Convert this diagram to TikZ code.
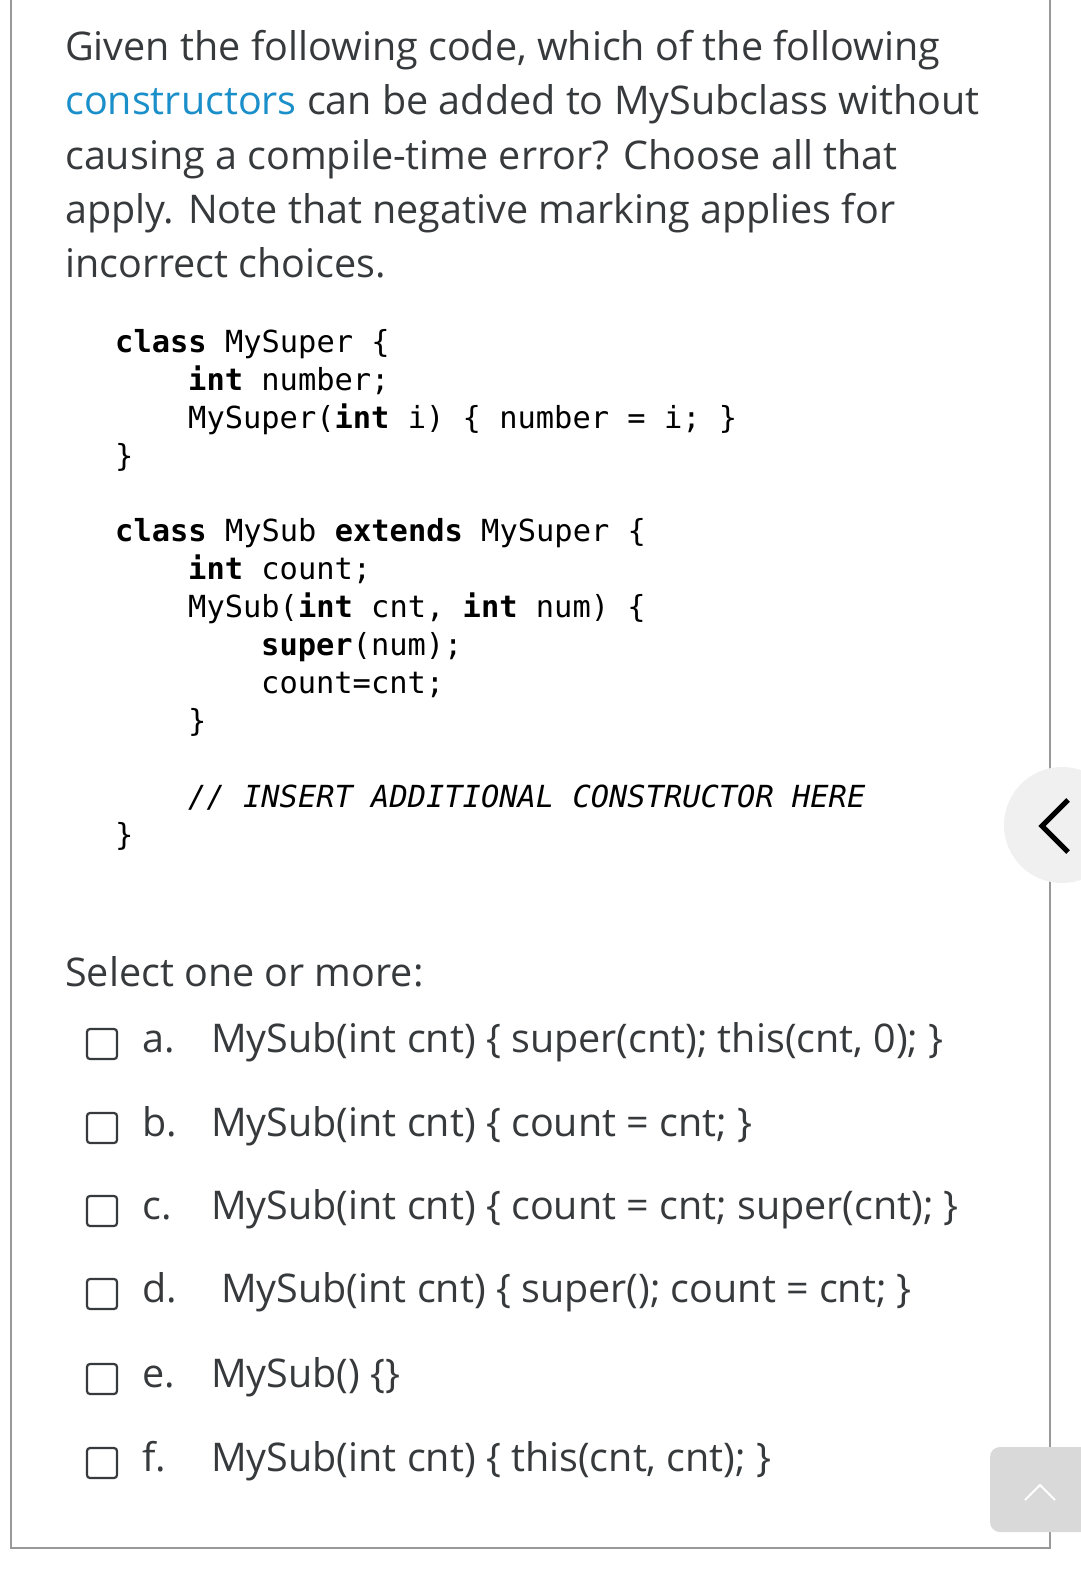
\documentclass[tikz,border=0pt]{standalone}
\usepackage{fontspec}
\setmainfont{Open Sans}
\setmonofont{DejaVu Sans Mono}
\definecolor{txt}{HTML}{373A3C}
\definecolor{lnk}{HTML}{1A8FC9}
\begin{document}
\begin{tikzpicture}[x=1pt,y=-1pt,
 t/.style={anchor=base west,inner sep=0,text=txt,font=\fontsize{39.5}{44}\selectfont},
 c/.style={anchor=base west,inner sep=0,text=black,font=\ttfamily\fontsize{30.4}{36}\selectfont},
 cb/.style={draw=txt,line width=2.2pt,rounded corners=3pt,minimum size=30pt,inner sep=0}]
\useasboundingbox (0,0) rectangle (1080,1592);
\fill[white] (0,0) rectangle (1080,1592);
\draw[line width=1.5pt,color=gray!80] (11,0) -- (11,1548) -- (1050,1548) -- (1050,0);
\fill[gray!12] (1062,825) circle (58);
\draw[line width=5pt,black] (1068,800) -- (1042,826) -- (1068,852);
\fill[gray!30,rounded corners=10pt] (990,1447) rectangle (1100,1532);
\draw[white,line width=2pt] (1025,1500) -- (1040,1485) -- (1055,1500);
\node[t] (l1) at (65,61) {Given the following code, which of the following};
\node[t] (l2) at (65,115) {\textcolor{lnk}{constructors} can be added to MySubclass without};
\node[t] (l3) at (65,169) {causing a compile-time error? Choose all that};
\node[t] (l4) at (65,223) {apply. Note that negative marking applies for};
\node[t] (l5) at (65,277) {incorrect choices.};
\node[c] (c1) at (115,352) {\textbf{class} MySuper \{};
\node[c] (c2) at (188,390) {\textbf{int} number;};
\node[c] (c3) at (188,428) {MySuper(\textbf{int} i) \{ number = i; \}};
\node[c] (c4) at (115,466) {\}};
\node[c] (c5) at (115,541) {\textbf{class} MySub \textbf{extends} MySuper \{};
\node[c] (c6) at (188,579) {\textbf{int} count;};
\node[c] (c7) at (188,617) {MySub(\textbf{int} cnt, \textbf{int} num) \{};
\node[c] (c8) at (261,655) {\textbf{super}(num);};
\node[c] (c9) at (261,693) {count=cnt;};
\node[c] (c10) at (188,731) {\}};
\node[c] (c11) at (188,807) {\textit{// INSERT ADDITIONAL CONSTRUCTOR HERE}};
\node[c] (c12) at (115,845) {\}};
\node[t] (sel) at (65,986) {Select one or more:};
\foreach \y/\l/\s [count=\i] in {1052/a./{MySub(int cnt) \{ super(cnt); this(cnt, 0); \}},
 1136/b./{MySub(int cnt) \{ count = cnt; \}},
 1219/c./{MySub(int cnt) \{ count = cnt; super(cnt); \}},
 1302/d./{\hspace{10pt}MySub(int cnt) \{ super(); count = cnt; \}},
 1387/e./{MySub() \{\}},
 1471/f./{MySub(int cnt) \{ this(cnt, cnt); \}}}{
 \node[cb] (b\i) at (102,\y-8) {};
 \node[t] (k\i) at (142,\y) {\l};
 \node[t] (o\i) at (211,\y) {\s};
}
\end{tikzpicture}
\end{document}
